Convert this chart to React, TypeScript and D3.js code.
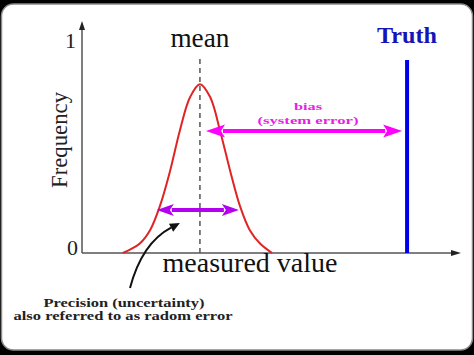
import React from "react";
import * as d3 from "d3";

const curveX = [10.8, 12.7, 15.3, 18.0, 20.6, 23.3, 25.9, 28.6, 31.2, 33.9, 36.5, 39.2, 41.8, 44.4, 47.1, 50.3];
const curveY = [0, 0.016, 0.045, 0.108, 0.222, 0.389, 0.581, 0.739, 0.8, 0.739, 0.581, 0.389, 0.222, 0.108, 0.045, 0];
const yTicks = [0, 1];
const yTickLabels = ["0", "1"];
const meanX = 31.2;
const meanTop = 0.938;
const truthX = 86;
const truthTop = 0.915;
const biasY = 0.578;
const biasRange = [32.8, 84.7];
const precisionY = 0.204;
const precisionRange = [19.8, 41.5];
const pointerFrom = [12.7, -0.166];
const pointerTo = [25.9, 0.142];

const W = 474;
const H = 355;

export default function App() {
  const x = d3.scaleLinear().domain([0, 100]).range([82, 460]);
  const y = d3.scaleLinear().domain([0, 1]).range([253, 42]);
  const pts: [number, number][] = curveX.map((v, i) => [v, curveY[i]]);
  const line = d3
    .line<[number, number]>()
    .x((d) => x(d[0]))
    .y((d) => y(d[1]))
    .curve(d3.curveCatmullRom);

  const serif = "Liberation Serif, Times New Roman, serif";

  const dblArrow = (x0: number, x1: number, yy: number, color: string, hl: number, hw: number, sw: number) => {
    const a = x(x0), b = x(x1), c = y(yy);
    return (
      <g fill={color}>
        <line x1={a + hl - 2} x2={b - hl + 2} y1={c} y2={c} stroke={color} strokeWidth={sw} />
        <path d={`M${a},${c} L${a + hl},${c - hw} L${a + hl - 4},${c} L${a + hl},${c + hw} Z`} />
        <path d={`M${b},${c} L${b - hl},${c - hw} L${b - hl + 4},${c} L${b - hl},${c + hw} Z`} />
      </g>
    );
  };

  const px0 = x(pointerFrom[0]), py0 = y(pointerFrom[1]);
  const px1 = x(pointerTo[0]), py1 = y(pointerTo[1]);
  const cx = px0 + 12, cy = py0 - 45;
  const ang = Math.atan2(py1 - cy, px1 - cx);
  const hl = 10, hw = 4.5;
  const bx = px1 - hl * Math.cos(ang), by = py1 - hl * Math.sin(ang);
  const nx = -Math.sin(ang), ny = Math.cos(ang);

  return (
    <svg width={W} height={H} style={{ position: "absolute", left: 0, top: 0, display: "block" }}>
      <rect x={0} y={0} width={W} height={H} fill="#000" />
      <rect x={1.5} y={4} width={471} height={346} rx={12} ry={12} fill="#fff" stroke="#8a8a8a" strokeWidth={1.5} />

      {/* axes */}
      <line x1={x(0)} x2={x(0)} y1={y(0)} y2={28} stroke="#555" strokeWidth={1.5} />
      <path d={`M${x(0)},21 L${x(0) - 3},30 L${x(0) + 3},30 Z`} fill="#222" />
      <line x1={x(0)} x2={452} y1={y(0)} y2={y(0)} stroke="#555" strokeWidth={1.5} />
      <path d={`M461,${y(0)} L451,${y(0) - 3} L451,${y(0) + 3} Z`} fill="#222" />

      {yTicks.map((t, i) => (
        <text key={t} x={i === 0 ? 78 : 76} y={y(t) + (i === 0 ? 2 : 6)} textAnchor="end" fontFamily={serif} fontSize={22} fill="#222">
          {yTickLabels[i]}
        </text>
      ))}
      <text transform={`translate(67,140) rotate(-90)`} textAnchor="middle" fontFamily={serif} fontSize={23} fill="#222" textLength={96} lengthAdjust="spacingAndGlyphs">
        Frequency
      </text>
      <text x={250} y={272} textAnchor="middle" fontFamily={serif} fontSize={27} fill="#111" textLength={175} lengthAdjust="spacingAndGlyphs">
        measured value
      </text>

      {/* mean dashed line */}
      <line x1={x(meanX)} x2={x(meanX)} y1={y(0)} y2={y(meanTop)} stroke="#555" strokeWidth={1.5} strokeDasharray="5,4" />
      <text x={x(meanX)} y={47} textAnchor="middle" fontFamily={serif} fontSize={27} fill="#111" textLength={59} lengthAdjust="spacingAndGlyphs">
        mean
      </text>

      {/* curve */}
      <path d={line(pts) || ""} fill="none" stroke="#e02424" strokeWidth={2} />

      {/* truth */}
      <line x1={x(truthX)} x2={x(truthX)} y1={y(0)} y2={y(truthTop)} stroke="#0000e6" strokeWidth={4} />
      <text x={407} y={43} textAnchor="middle" fontFamily={serif} fontWeight="bold" fontSize={23} fill="#1414b8" textLength={60} lengthAdjust="spacingAndGlyphs">
        Truth
      </text>

      {/* bias */}
      {dblArrow(biasRange[0], biasRange[1], biasY, "#ff00ff", 19, 6.5, 4)}
      <text x={308} y={110} textAnchor="middle" fontFamily={serif} fontWeight="bold" fontSize={11} fill="#e61ee6" textLength={28} lengthAdjust="spacingAndGlyphs">
        bias
      </text>
      <text x={308} y={123.5} textAnchor="middle" fontFamily={serif} fontWeight="bold" fontSize={11} fill="#e61ee6" textLength={101} lengthAdjust="spacingAndGlyphs">
        (system error)
      </text>

      {/* precision */}
      {dblArrow(precisionRange[0], precisionRange[1], precisionY, "#b400f0", 17, 6, 4)}

      {/* pointer */}
      <path d={`M${px0},${py0} Q${cx},${cy} ${bx},${by}`} fill="none" stroke="#111" strokeWidth={2} />
      <path d={`M${px1},${py1} L${bx + nx * hw},${by + ny * hw} L${bx - nx * hw},${by - ny * hw} Z`} fill="#111" />

      <text x={124} y={307} textAnchor="middle" fontFamily={serif} fontWeight="bold" fontSize={12.5} fill="#222" textLength={161} lengthAdjust="spacingAndGlyphs">
        Precision (uncertainty)
      </text>
      <text x={123} y={320} textAnchor="middle" fontFamily={serif} fontWeight="bold" fontSize={12.5} fill="#222" textLength={219} lengthAdjust="spacingAndGlyphs">
        also referred to as radom error
      </text>
    </svg>
  );
}
